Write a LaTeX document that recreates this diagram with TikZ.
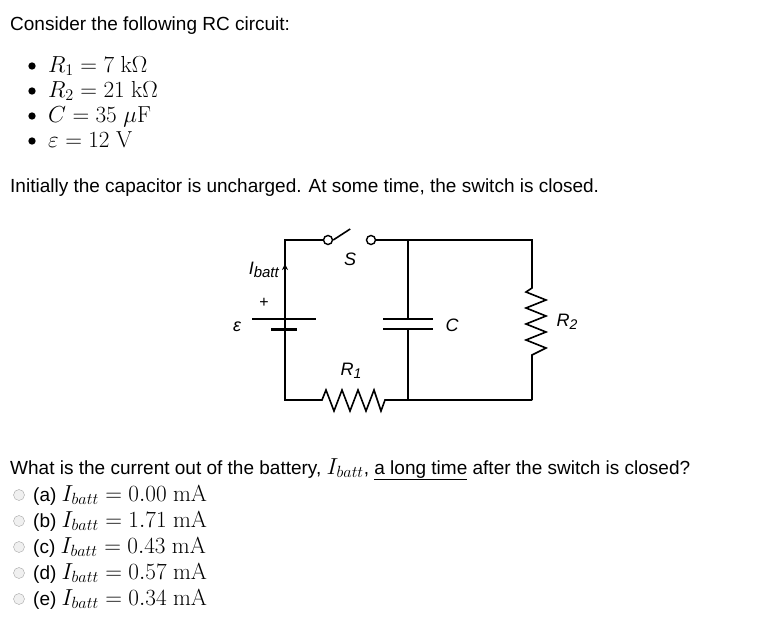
\documentclass[tikz,border=0pt]{standalone}
\usepackage{fix-cm}
\usepackage{graphicx}
\usepackage[no-math]{fontspec}
\setmainfont{Liberation Sans}
\newcommand{\Mth}[1]{\scalebox{1.22}{$#1$}}
\usetikzlibrary{arrows.meta}
\begin{document}
\begin{tikzpicture}[x=1pt,y=-1pt,
 txt/.style={anchor=base west,inner sep=0pt,font=\fontsize{19}{22}\selectfont},
 wire/.style={line width=1.6pt},
 radio/.style={circle,draw=gray!70,fill=gray!12,minimum size=11pt,inner sep=0pt},
 lbl/.style={inner sep=0pt,font=\fontsize{18}{20}\selectfont\itshape}]
\useasboundingbox (0,0) rectangle (766,624);
\node[txt] (t1) at (10,30) {Consider the following RC circuit:};
\foreach \y/\t [count=\i] in {72/{\Mth{R_1 = 7\ \mathrm{k\Omega}}},97/{\Mth{R_2 = 21\ \mathrm{k\Omega}}},122/{\Mth{C = 35\ \mu\mathrm{F}}},147/{\Mth{\varepsilon = 12\ \mathrm{V}}}}{
 \node[circle,fill,inner sep=2.6pt] (b\i) at (32,\y-6) {};
 \node[txt] (l\i) at (48,\y) {\t};}
\node[txt] (t2) at (10,192) {Initially the capacitor is uncharged. At some time, the switch is closed.};
% circuit
\coordinate (tl) at (285,240); \coordinate (bl) at (285,400);
\coordinate (tm) at (408,240); \coordinate (bm) at (408,400);
\coordinate (tr) at (532,240); \coordinate (br) at (532,400);
\node[circle,draw,line width=1.4pt,inner sep=0pt,minimum size=9pt] (s1) at (328,240) {};
\node[circle,draw,line width=1.4pt,inner sep=0pt,minimum size=9pt] (s2) at (371,240) {};
\draw[wire] (s1.east) -- ++(17,-11);
\draw[wire] (bl) |- (tl) -- (s1.west);
\draw[wire] (s2.east) -- (tr) -- (532,288) -- (526,292) -- (546,300) -- (526,308) -- (546,316) -- (526,324) -- (546,332) -- (526,340) -- (546,348) -- (532,355) -- (br);
\draw[wire] (br) -- (bm) -- (385,400) -- (381,411) -- (374,390) -- (366,411) -- (358,390) -- (350,411) -- (342,390) -- (334,411) -- (326,390) -- (322,400) -- (bl) -- (285,329);
\draw[wire] (285,319) -- (285,240);
\draw[wire] (252,319) -- (316,319);
\draw[line width=3pt] (271,329) -- (297,329);
\draw[wire] (tm) -- (408,319); \draw[wire] (bm) -- (408,329);
\draw[wire] (383,319) -- (433,319); \draw[wire] (383,329) -- (433,329);
\draw[line width=1.2pt,-{Stealth[length=6pt,width=6pt]}] (285,276) -- (285,264);
\node[lbl,anchor=east] (ib) at (279,270) {I\raisebox{-3pt}{\fontsize{15}{16}\selectfont batt}};
\node[lbl,font=\fontsize{16}{18}\selectfont] (pl) at (264,303) {+};
\node[lbl] (eps) at (237,327) {ε};
\node[lbl] (C) at (452,325) {C};
\node[lbl] (S) at (350,259) {S};
\node[lbl] (R1) at (351,371) {R\raisebox{-3pt}{\fontsize{14}{16}\selectfont 1}};
\node[lbl] (R2) at (567,322) {R\raisebox{-3pt}{\fontsize{14}{16}\selectfont 2}};
% question
\node[txt] (q) at (10,474) {What is the current out of the battery, \Mth{I_{batt}}, \underline{a long time} after the switch is closed?};
\foreach \y/\l/\v [count=\i] in {501/a/0.00,527/b/1.71,553/c/0.43,579/d/0.57,605/e/0.34}{
 \node[radio] (r\i) at (19,\y-6) {};
 \node[txt] (o\i) at (33,\y) {(\l) \Mth{I_{batt} = \v\ \mathrm{mA}}};}
\end{tikzpicture}
\end{document}
